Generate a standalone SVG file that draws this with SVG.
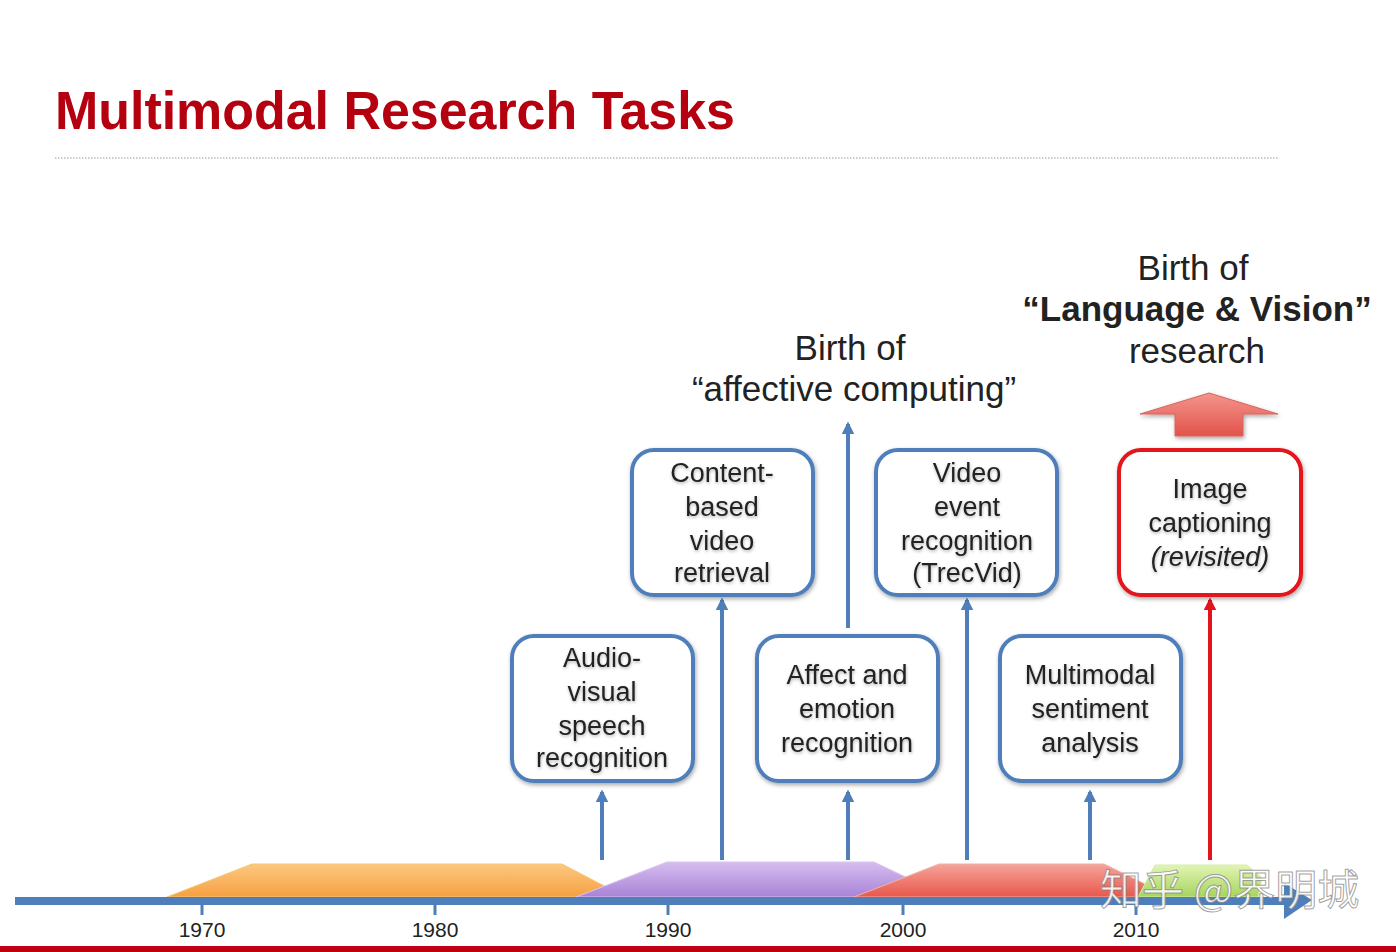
<svg xmlns="http://www.w3.org/2000/svg" width="1396" height="952" viewBox="0 0 1396 952">
<defs>
<style>
.title{font-family:"Liberation Sans",Arial,sans-serif;font-weight:bold;font-size:54px;fill:#B5000F}
.head{font-family:"Liberation Sans",Arial,sans-serif;font-size:35px;fill:#222;text-anchor:middle}
.node rect{fill:#fff;stroke:#4F7FBA;stroke-width:4;filter:url(#sh)}
.node.red rect{stroke:#E3121B}
.node text{font-family:"Liberation Sans",Arial,sans-serif;font-size:27px;fill:#222;text-anchor:middle;filter:url(#tsh)}
.year{font-family:"Liberation Sans",Arial,sans-serif;font-size:21px;fill:#222;text-anchor:middle}
.conn{stroke:#4F7FBA;stroke-width:4;fill:none}
.conn.red{stroke:#E3121B}
.tick{stroke:#4F7FBA;stroke-width:3}
.wm{font-family:"Noto Sans CJK SC","Liberation Sans",sans-serif;font-size:42px;fill:#fff;fill-opacity:0.9;stroke:#777;stroke-width:1;stroke-opacity:0.7}
</style>
<filter id="sh" x="-10%" y="-10%" width="125%" height="130%"><feDropShadow dx="1" dy="2" stdDeviation="2" flood-color="#000" flood-opacity="0.35"/></filter>
<filter id="tsh" x="-10%" y="-20%" width="130%" height="160%"><feDropShadow dx="0.5" dy="1.5" stdDeviation="1.5" flood-color="#000" flood-opacity="0.3"/></filter>
<marker id="ab" viewBox="0 0 10 10" refX="8" refY="5" markerWidth="3.2" markerHeight="3.2" orient="auto" markerUnits="strokeWidth"><path d="M0,0 L10,5 L0,10 z" fill="#4F7FBA"/></marker>
<marker id="ar" viewBox="0 0 10 10" refX="8" refY="5" markerWidth="3.2" markerHeight="3.2" orient="auto" markerUnits="strokeWidth"><path d="M0,0 L10,5 L0,10 z" fill="#E3121B"/></marker>
<linearGradient id="gO" x1="0" y1="0" x2="0" y2="1"><stop offset="0" stop-color="#FCC880"/><stop offset="1" stop-color="#F6A042"/></linearGradient>
<linearGradient id="gP" x1="0" y1="0" x2="0" y2="1"><stop offset="0" stop-color="#D6BDF0"/><stop offset="1" stop-color="#A883D6"/></linearGradient>
<linearGradient id="gR" x1="0" y1="0" x2="0" y2="1"><stop offset="0" stop-color="#F6A49A"/><stop offset="1" stop-color="#E8574C"/></linearGradient>
<linearGradient id="gG" x1="0" y1="0" x2="0" y2="1"><stop offset="0" stop-color="#E2F4B4"/><stop offset="1" stop-color="#A6D45E"/></linearGradient>
<linearGradient id="gA" x1="0" y1="0" x2="0" y2="1"><stop offset="0" stop-color="#F4958C"/><stop offset="1" stop-color="#E2534A"/></linearGradient>
</defs>
<rect width="1396" height="952" fill="#fff"/>
<text class="title" x="55" y="129" textLength="680" lengthAdjust="spacingAndGlyphs">Multimodal Research Tasks</text>
<line x1="55" y1="158" x2="1278" y2="158" stroke="#999" stroke-width="1.2" stroke-dasharray="1.5 1.5"/>

<g id="timeline">
<polygon points="167,897 252,864 562,864 612,890 600,897" fill="url(#gO)" stroke="#F5C870" stroke-width="1"/>
<polygon points="576,897 667,862 874,862 912,880 900,897" fill="url(#gP)" stroke="#D9C4F0" stroke-width="1"/>
<polygon points="854,897 939,864 1104,864 1145,884 1140,897" fill="url(#gR)" stroke="#F3B0A8" stroke-width="1"/>
<polygon points="1138,897 1155,865 1247,865 1262,878 1258,897" fill="url(#gG)" stroke="#D6EDA8" stroke-width="1"/>
<rect x="15" y="897" width="1275" height="8" fill="#4F7FBA"/>
<polygon points="1284,883 1312,900 1284,919" fill="#4F7FBA"/>
<line class="tick" x1="202" y1="905" x2="202" y2="915"/>
<line class="tick" x1="435" y1="905" x2="435" y2="915"/>
<line class="tick" x1="668" y1="905" x2="668" y2="915"/>
<line class="tick" x1="903" y1="905" x2="903" y2="915"/>
<line class="tick" x1="1136" y1="905" x2="1136" y2="915"/>
<text class="year" x="202" y="937">1970</text>
<text class="year" x="435" y="937">1980</text>
<text class="year" x="668" y="937">1990</text>
<text class="year" x="903" y="937">2000</text>
<text class="year" x="1136" y="937">2010</text>
</g>

<g id="connectors">
<line class="conn" x1="602" y1="860" x2="602" y2="792" marker-end="url(#ab)"/>
<line class="conn" x1="722" y1="860" x2="722" y2="600" marker-end="url(#ab)"/>
<line class="conn" x1="848" y1="860" x2="848" y2="792" marker-end="url(#ab)"/>
<line class="conn" x1="848" y1="628" x2="848" y2="424" marker-end="url(#ab)"/>
<line class="conn" x1="967" y1="860" x2="967" y2="600" marker-end="url(#ab)"/>
<line class="conn" x1="1090" y1="860" x2="1090" y2="792" marker-end="url(#ab)"/>
<line class="conn red" x1="1210" y1="860" x2="1210" y2="600" marker-end="url(#ar)"/>
</g>

<g id="n-avsr" class="node"><rect x="512" y="636" width="181" height="145" rx="22"/>
<text x="602" y="667">Audio-</text><text x="602" y="701">visual</text><text x="602" y="735">speech</text><text x="602" y="767">recognition</text></g>
<g id="n-cbvr" class="node"><rect x="632" y="450" width="181" height="145" rx="22"/>
<text x="722" y="482">Content-</text><text x="722" y="516">based</text><text x="722" y="550">video</text><text x="722" y="582">retrieval</text></g>
<g id="n-aer" class="node"><rect x="757" y="636" width="181" height="145" rx="22"/>
<text x="847" y="684">Affect and</text><text x="847" y="718">emotion</text><text x="847" y="752">recognition</text></g>
<g id="n-ver" class="node"><rect x="876" y="450" width="181" height="145" rx="22"/>
<text x="967" y="482">Video</text><text x="967" y="516">event</text><text x="967" y="550">recognition</text><text x="967" y="582">(TrecVid)</text></g>
<g id="n-msa" class="node"><rect x="1000" y="636" width="181" height="145" rx="22"/>
<text x="1090" y="684">Multimodal</text><text x="1090" y="718">sentiment</text><text x="1090" y="752">analysis</text></g>
<g id="n-ic" class="node red"><rect x="1119" y="450" width="182" height="145" rx="22"/>
<text x="1210" y="498">Image</text><text x="1210" y="532">captioning</text><text x="1210" y="566" font-style="italic">(revisited)</text></g>

<g id="birth-affective">
<text class="head" x="850" y="360">Birth of</text>
<text class="head" x="854" y="401">“affective computing”</text>
</g>
<g id="birth-lv">
<text class="head" x="1193" y="280">Birth of</text>
<text class="head" x="1197" y="321" font-weight="bold">“Language &amp; Vision”</text>
<text class="head" x="1197" y="363">research</text>
<polygon points="1209,393 1278,414 1243,414 1243,436 1175,436 1175,414 1140,414" fill="url(#gA)" stroke="#D8645C" stroke-width="1" filter="url(#sh)"/>
</g>

<text class="wm" x="1100" y="905">知乎 @界明城</text>
<rect x="0" y="946" width="1396" height="6" fill="#C00010"/>
</svg>
